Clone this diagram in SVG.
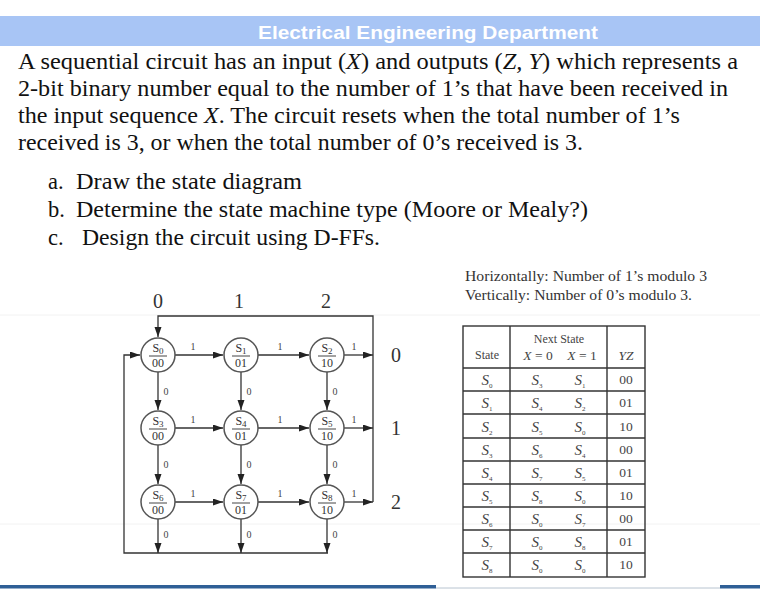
<svg xmlns="http://www.w3.org/2000/svg" width="760" height="595" viewBox="0 0 760 595">
<style>
.para{font-family:"Liberation Serif",serif;font-size:22.5px;fill:#111}
.it{font-style:italic}
.title{font-family:"Liberation Sans",Arial,sans-serif;font-size:19px;font-weight:bold;fill:#fff}
.lbl{font-family:"Liberation Serif",serif;font-size:20px;fill:#333}
.st{fill:#fff;stroke:#555;stroke-width:1.5}
.stx{font-family:"Liberation Serif",serif;font-size:12px;fill:#333;text-anchor:middle}
.sm{font-family:"Liberation Serif",serif;font-size:10px;fill:#444;text-anchor:middle}
.edge{fill:none;stroke:#333;stroke-width:1.3}
.note{font-family:"Liberation Serif",serif;font-size:14.5px;fill:#333}
.tb{font-family:"Liberation Serif",serif;fill:#444;text-anchor:middle}
.grid{stroke:#333;stroke-width:1.4;fill:none}
</style>
<defs>
<marker id="ah" markerUnits="userSpaceOnUse" markerWidth="11" markerHeight="8" refX="10" refY="3.5" orient="auto">
<path d="M0,0 L10,3.5 L0,7 z" fill="#222"/>
</marker>
</defs>
<rect width="760" height="595" fill="#fff"/>
<g id="faint" stroke="#f2f2f2" stroke-width="1">
<line x1="0" y1="315" x2="760" y2="315"/>
<line x1="0" y1="524" x2="760" y2="524"/>
</g>
<g id="header">
<rect x="0" y="16" width="760" height="30" fill="#a8c5f5"/>
<text class="title" x="258" y="39" textLength="340" lengthAdjust="spacingAndGlyphs">Electrical Engineering Department</text>
</g>
<g id="problem">
<text class="para" x="18" y="69" textLength="720" lengthAdjust="spacingAndGlyphs">A sequential circuit has an input (<tspan class="it">X</tspan>) and outputs (<tspan class="it">Z, Y</tspan>) which represents a</text>
<text class="para" x="18" y="96" textLength="710" lengthAdjust="spacingAndGlyphs">2-bit binary number equal to the number of 1’s that have been received in</text>
<text class="para" x="18" y="123" textLength="662" lengthAdjust="spacingAndGlyphs">the input sequence <tspan class="it">X</tspan>. The circuit resets when the total number of 1’s</text>
<text class="para" x="18" y="150" textLength="565" lengthAdjust="spacingAndGlyphs">received is 3, or when the total number of 0’s received is 3.</text>
<text class="para" x="48" y="189">a.</text>
<text class="para" x="76" y="189" textLength="226" lengthAdjust="spacingAndGlyphs">Draw the state diagram</text>
<text class="para" x="48" y="217">b.</text>
<text class="para" x="76" y="217" textLength="512" lengthAdjust="spacingAndGlyphs">Determine the state machine type (Moore or Mealy?)</text>
<text class="para" x="48" y="245">c.</text>
<text class="para" x="82" y="245" textLength="298" lengthAdjust="spacingAndGlyphs">Design the circuit using D-FFs.</text>
</g>
<g id="axis-labels">
<text class="lbl" x="158" y="308" text-anchor="middle">0</text>
<text class="lbl" x="239" y="308" text-anchor="middle">1</text>
<text class="lbl" x="326" y="308" text-anchor="middle">2</text>
<text class="lbl" x="396" y="362" text-anchor="middle">0</text>
<text class="lbl" x="396" y="435" text-anchor="middle">1</text>
<text class="lbl" x="396" y="509" text-anchor="middle">2</text>
</g>
<g id="connectors">
<path class="edge" d="M373,502 V316 H158 V337" marker-end="url(#ah)"/>
<path class="edge" d="M328,553 H124 V355 H140" marker-end="url(#ah)"/>
<path class="edge" d="M175,355 H223" marker-end="url(#ah)"/>
<path class="edge" d="M258,355 H309" marker-end="url(#ah)"/>
<path class="edge" d="M344,355 H373" marker-end="url(#ah)"/>
<path class="edge" d="M175,428 H223" marker-end="url(#ah)"/>
<path class="edge" d="M258,428 H309" marker-end="url(#ah)"/>
<path class="edge" d="M344,428 H373" marker-end="url(#ah)"/>
<path class="edge" d="M175,502 H223" marker-end="url(#ah)"/>
<path class="edge" d="M258,502 H309" marker-end="url(#ah)"/>
<path class="edge" d="M344,502 H373" marker-end="url(#ah)"/>
<path class="edge" d="M158,372 V410" marker-end="url(#ah)"/>
<path class="edge" d="M241,372 V410" marker-end="url(#ah)"/>
<path class="edge" d="M327,372 V410" marker-end="url(#ah)"/>
<path class="edge" d="M158,445 V484" marker-end="url(#ah)"/>
<path class="edge" d="M241,445 V484" marker-end="url(#ah)"/>
<path class="edge" d="M327,445 V484" marker-end="url(#ah)"/>
<path class="edge" d="M158,519 V553" marker-end="url(#ah)"/>
<path class="edge" d="M241,519 V553" marker-end="url(#ah)"/>
<path class="edge" d="M327,519 V553" marker-end="url(#ah)"/>
<g class="sm">
<text x="193" y="350">1</text><text x="280" y="350">1</text><text x="354" y="350">1</text>
<text x="193" y="423">1</text><text x="280" y="423">1</text><text x="354" y="423">1</text>
<text x="193" y="497">1</text><text x="280" y="497">1</text><text x="354" y="497">1</text>
<text x="166" y="395">0</text><text x="249" y="395">0</text><text x="335" y="395">0</text>
<text x="166" y="468">0</text><text x="249" y="468">0</text><text x="335" y="468">0</text>
<text x="166" y="538">0</text><text x="249" y="538">0</text><text x="335" y="538">0</text>
</g>
</g>
<g id="S0"><circle class="st" cx="158" cy="355" r="17"/><text class="stx" x="158" y="352">S<tspan font-size="9" dy="2">0</tspan></text><line x1="149" y1="356" x2="167" y2="356" stroke="#444"/><text class="stx" x="158" y="367">00</text></g>
<g id="S1"><circle class="st" cx="241" cy="355" r="17"/><text class="stx" x="241" y="352">S<tspan font-size="9" dy="2">1</tspan></text><line x1="232" y1="356" x2="250" y2="356" stroke="#444"/><text class="stx" x="241" y="367">01</text></g>
<g id="S2"><circle class="st" cx="327" cy="355" r="17"/><text class="stx" x="327" y="352">S<tspan font-size="9" dy="2">2</tspan></text><line x1="318" y1="356" x2="336" y2="356" stroke="#444"/><text class="stx" x="327" y="367">10</text></g>
<g id="S3"><circle class="st" cx="158" cy="428" r="17"/><text class="stx" x="158" y="425">S<tspan font-size="9" dy="2">3</tspan></text><line x1="149" y1="429" x2="167" y2="429" stroke="#444"/><text class="stx" x="158" y="440">00</text></g>
<g id="S4"><circle class="st" cx="241" cy="428" r="17"/><text class="stx" x="241" y="425">S<tspan font-size="9" dy="2">4</tspan></text><line x1="232" y1="429" x2="250" y2="429" stroke="#444"/><text class="stx" x="241" y="440">01</text></g>
<g id="S5"><circle class="st" cx="327" cy="428" r="17"/><text class="stx" x="327" y="425">S<tspan font-size="9" dy="2">5</tspan></text><line x1="318" y1="429" x2="336" y2="429" stroke="#444"/><text class="stx" x="327" y="440">10</text></g>
<g id="S6"><circle class="st" cx="158" cy="502" r="17"/><text class="stx" x="158" y="499">S<tspan font-size="9" dy="2">6</tspan></text><line x1="149" y1="503" x2="167" y2="503" stroke="#444"/><text class="stx" x="158" y="514">00</text></g>
<g id="S7"><circle class="st" cx="241" cy="502" r="17"/><text class="stx" x="241" y="499">S<tspan font-size="9" dy="2">7</tspan></text><line x1="232" y1="503" x2="250" y2="503" stroke="#444"/><text class="stx" x="241" y="514">01</text></g>
<g id="S8"><circle class="st" cx="327" cy="502" r="17"/><text class="stx" x="327" y="499">S<tspan font-size="9" dy="2">8</tspan></text><line x1="318" y1="503" x2="336" y2="503" stroke="#444"/><text class="stx" x="327" y="514">10</text></g>
<g id="notes">
<text class="note" x="465" y="281" textLength="242" lengthAdjust="spacingAndGlyphs">Horizontally:  Number of 1’s modulo 3</text>
<text class="note" x="465" y="300" textLength="227" lengthAdjust="spacingAndGlyphs">Vertically:  Number of 0’s modulo 3.</text>
</g>
<g id="table">
<rect class="grid" x="463" y="326" width="182" height="251"/>
<line class="grid" x1="510" y1="326" x2="510" y2="577"/>
<line class="grid" x1="607" y1="326" x2="607" y2="577"/>
<g class="grid">
<line x1="463" y1="368" x2="645" y2="368"/>
<line x1="463" y1="391" x2="645" y2="391"/>
<line x1="463" y1="414" x2="645" y2="414"/>
<line x1="463" y1="438" x2="645" y2="438"/>
<line x1="463" y1="461" x2="645" y2="461"/>
<line x1="463" y1="484" x2="645" y2="484"/>
<line x1="463" y1="507" x2="645" y2="507"/>
<line x1="463" y1="530" x2="645" y2="530"/>
<line x1="463" y1="553" x2="645" y2="553"/>
</g>
<text class="tb" x="487" y="359" font-size="12">State</text>
<text class="tb" x="559" y="343" font-size="12">Next State</text>
<text class="tb" x="538" y="360" font-size="13.5"><tspan class="it">X</tspan> = 0</text>
<text class="tb" x="582" y="360" font-size="13.5"><tspan class="it">X</tspan> = 1</text>
<text class="tb it" x="626" y="360" font-size="13.5">YZ</text>
<g class="tb" font-size="15">
<text x="487" y="385"><tspan class="it">S</tspan><tspan font-size="7" dy="3">0</tspan></text>
<text x="537" y="385"><tspan class="it">S</tspan><tspan font-size="7" dy="3">3</tspan></text>
<text x="580" y="385"><tspan class="it">S</tspan><tspan font-size="7" dy="3">1</tspan></text>
<text x="487" y="408"><tspan class="it">S</tspan><tspan font-size="7" dy="3">1</tspan></text>
<text x="537" y="408"><tspan class="it">S</tspan><tspan font-size="7" dy="3">4</tspan></text>
<text x="580" y="408"><tspan class="it">S</tspan><tspan font-size="7" dy="3">2</tspan></text>
<text x="487" y="432"><tspan class="it">S</tspan><tspan font-size="7" dy="3">2</tspan></text>
<text x="537" y="432"><tspan class="it">S</tspan><tspan font-size="7" dy="3">5</tspan></text>
<text x="580" y="432"><tspan class="it">S</tspan><tspan font-size="7" dy="3">0</tspan></text>
<text x="487" y="455"><tspan class="it">S</tspan><tspan font-size="7" dy="3">3</tspan></text>
<text x="537" y="455"><tspan class="it">S</tspan><tspan font-size="7" dy="3">6</tspan></text>
<text x="580" y="455"><tspan class="it">S</tspan><tspan font-size="7" dy="3">4</tspan></text>
<text x="487" y="478"><tspan class="it">S</tspan><tspan font-size="7" dy="3">4</tspan></text>
<text x="537" y="478"><tspan class="it">S</tspan><tspan font-size="7" dy="3">7</tspan></text>
<text x="580" y="478"><tspan class="it">S</tspan><tspan font-size="7" dy="3">5</tspan></text>
<text x="487" y="501"><tspan class="it">S</tspan><tspan font-size="7" dy="3">5</tspan></text>
<text x="537" y="501"><tspan class="it">S</tspan><tspan font-size="7" dy="3">8</tspan></text>
<text x="580" y="501"><tspan class="it">S</tspan><tspan font-size="7" dy="3">0</tspan></text>
<text x="487" y="524"><tspan class="it">S</tspan><tspan font-size="7" dy="3">6</tspan></text>
<text x="537" y="524"><tspan class="it">S</tspan><tspan font-size="7" dy="3">0</tspan></text>
<text x="580" y="524"><tspan class="it">S</tspan><tspan font-size="7" dy="3">7</tspan></text>
<text x="487" y="547"><tspan class="it">S</tspan><tspan font-size="7" dy="3">7</tspan></text>
<text x="537" y="547"><tspan class="it">S</tspan><tspan font-size="7" dy="3">0</tspan></text>
<text x="580" y="547"><tspan class="it">S</tspan><tspan font-size="7" dy="3">8</tspan></text>
<text x="487" y="570"><tspan class="it">S</tspan><tspan font-size="7" dy="3">8</tspan></text>
<text x="537" y="570"><tspan class="it">S</tspan><tspan font-size="7" dy="3">0</tspan></text>
<text x="580" y="570"><tspan class="it">S</tspan><tspan font-size="7" dy="3">0</tspan></text>
</g>
<g class="tb" font-size="13.5">
<text x="626" y="384">00</text>
<text x="626" y="407">01</text>
<text x="626" y="431">10</text>
<text x="626" y="454">00</text>
<text x="626" y="477">01</text>
<text x="626" y="500">10</text>
<text x="626" y="523">00</text>
<text x="626" y="546">01</text>
<text x="626" y="569">10</text>
</g>
</g>
<g id="footer">
<rect x="0" y="585" width="436" height="3.5" fill="#2f5f96"/>
<line x1="436" y1="588" x2="720" y2="588" stroke="#b8c4d0" stroke-width="1"/>
<rect x="720" y="585" width="40" height="3.5" fill="#2f5f96"/>
</g>
</svg>
